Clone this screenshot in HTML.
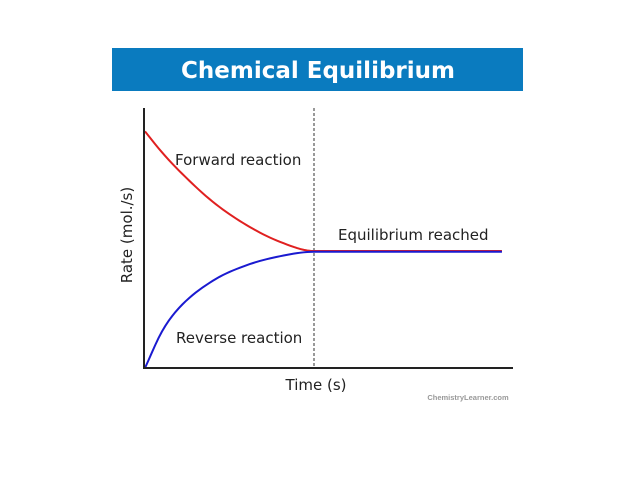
<!DOCTYPE html>
<html><head><meta charset="utf-8"><style>
html,body{margin:0;padding:0;background:#fff;}
svg{display:block;font-family:"Liberation Sans","DejaVu Sans",sans-serif;}
</style></head><body>
<svg width="638" height="478" viewBox="0 0 638 478">
<rect x="112" y="48" width="411" height="43" fill="#0a7bbf"/>
<text x="318" y="78" text-anchor="middle" fill="#fff" font-size="23" font-weight="bold" font-family="DejaVu Sans,sans-serif">Chemical Equilibrium</text>
<g id="plot"></g>
<line x1="144" y1="108" x2="144" y2="369" stroke="#222" stroke-width="2"/>
<line x1="143" y1="368" x2="513" y2="368" stroke="#222" stroke-width="2"/>
<text x="132" y="235" transform="rotate(-90 132 235)" text-anchor="middle" font-size="15" fill="#222" font-family="DejaVu Sans,sans-serif">Rate (mol./s)</text>
<text x="316" y="390" text-anchor="middle" font-size="15" fill="#222" font-family="DejaVu Sans,sans-serif">Time (s)</text>
<text x="175" y="165" font-size="15" fill="#222" font-family="DejaVu Sans,sans-serif">Forward reaction</text>
<text x="176" y="343" font-size="15" fill="#222" font-family="DejaVu Sans,sans-serif">Reverse reaction</text>
<text x="338" y="240" font-size="15" fill="#222" font-family="DejaVu Sans,sans-serif">Equilibrium reached</text>
<text x="468" y="400" text-anchor="middle" font-size="7.5" font-weight="bold" fill="#999">ChemistryLearner.com</text>
</svg>
<script>
const times = [0, 0.5, 1, 2, 3, 4, 5, 10.56];
const forwardRate = [9.1, 8.3, 7.6, 6.4, 5.5, 4.85, 4.5, 4.5];
const reverseRate = [0, 1.4, 2.3, 3.35, 3.95, 4.3, 4.47, 4.47];
const equilibriumTime = [5];
const xScale = t => 145 + t * 33.8;
const yScale = r => 368 - r * 26;
const NS = "http://www.w3.org/2000/svg";
const plot = document.getElementById('plot');
function monotone(xs, ys){
  const n=xs.length, d=[], m=[];
  for(let i=0;i<n-1;i++) d.push((ys[i+1]-ys[i])/(xs[i+1]-xs[i]));
  m[0]=d[0]; m[n-1]=d[n-2];
  for(let i=1;i<n-1;i++) m[i]=(d[i-1]*d[i]<=0)?0:(d[i-1]+d[i])/2;
  for(let i=0;i<n-1;i++){
    if(d[i]===0){m[i]=0;m[i+1]=0;continue;}
    const a=m[i]/d[i], b=m[i+1]/d[i], s=a*a+b*b;
    if(s>9){const t=3/Math.sqrt(s); m[i]=t*a*d[i]; m[i+1]=t*b*d[i];}
  }
  return x=>{
    let i=0; while(i<n-2 && x>xs[i+1]) i++;
    const h=xs[i+1]-xs[i], t=(x-xs[i])/h;
    const h00=2*t*t*t-3*t*t+1,h10=t*t*t-2*t*t+t,h01=-2*t*t*t+3*t*t,h11=t*t*t-t*t;
    return h00*ys[i]+h10*h*m[i]+h01*ys[i+1]+h11*h*m[i+1];
  };
}
function pathFor(vals){
  const f=monotone(times, vals);
  const end=times[times.length-1];
  let d='';
  for(let t=0;t<=end+1e-9;t+=0.1){
    const tt=Math.min(t,end);
    d+=(d?' L':'M')+xScale(tt).toFixed(2)+','+yScale(f(tt)).toFixed(2);
  }
  d+=' L'+xScale(end).toFixed(2)+','+yScale(f(end)).toFixed(2);
  return d;
}
const dl=document.createElementNS(NS,'line');
dl.setAttribute('x1',xScale(equilibriumTime[0]));dl.setAttribute('x2',xScale(equilibriumTime[0]));
dl.setAttribute('y1',108);dl.setAttribute('y2',368);
dl.setAttribute('stroke','#333');dl.setAttribute('stroke-width','1');dl.setAttribute('stroke-dasharray','3,2');


plot.appendChild(dl);
const fw=document.createElementNS(NS,'path');
fw.setAttribute('d',pathFor(forwardRate));fw.setAttribute('fill','none');fw.setAttribute('stroke','#e02020');fw.setAttribute('stroke-width','2');


plot.appendChild(fw);
const rv=document.createElementNS(NS,'path');
rv.setAttribute('d',pathFor(reverseRate));rv.setAttribute('fill','none');rv.setAttribute('stroke','#1a1ad0');rv.setAttribute('stroke-width','2');


plot.appendChild(rv);
</script>
</body></html>
